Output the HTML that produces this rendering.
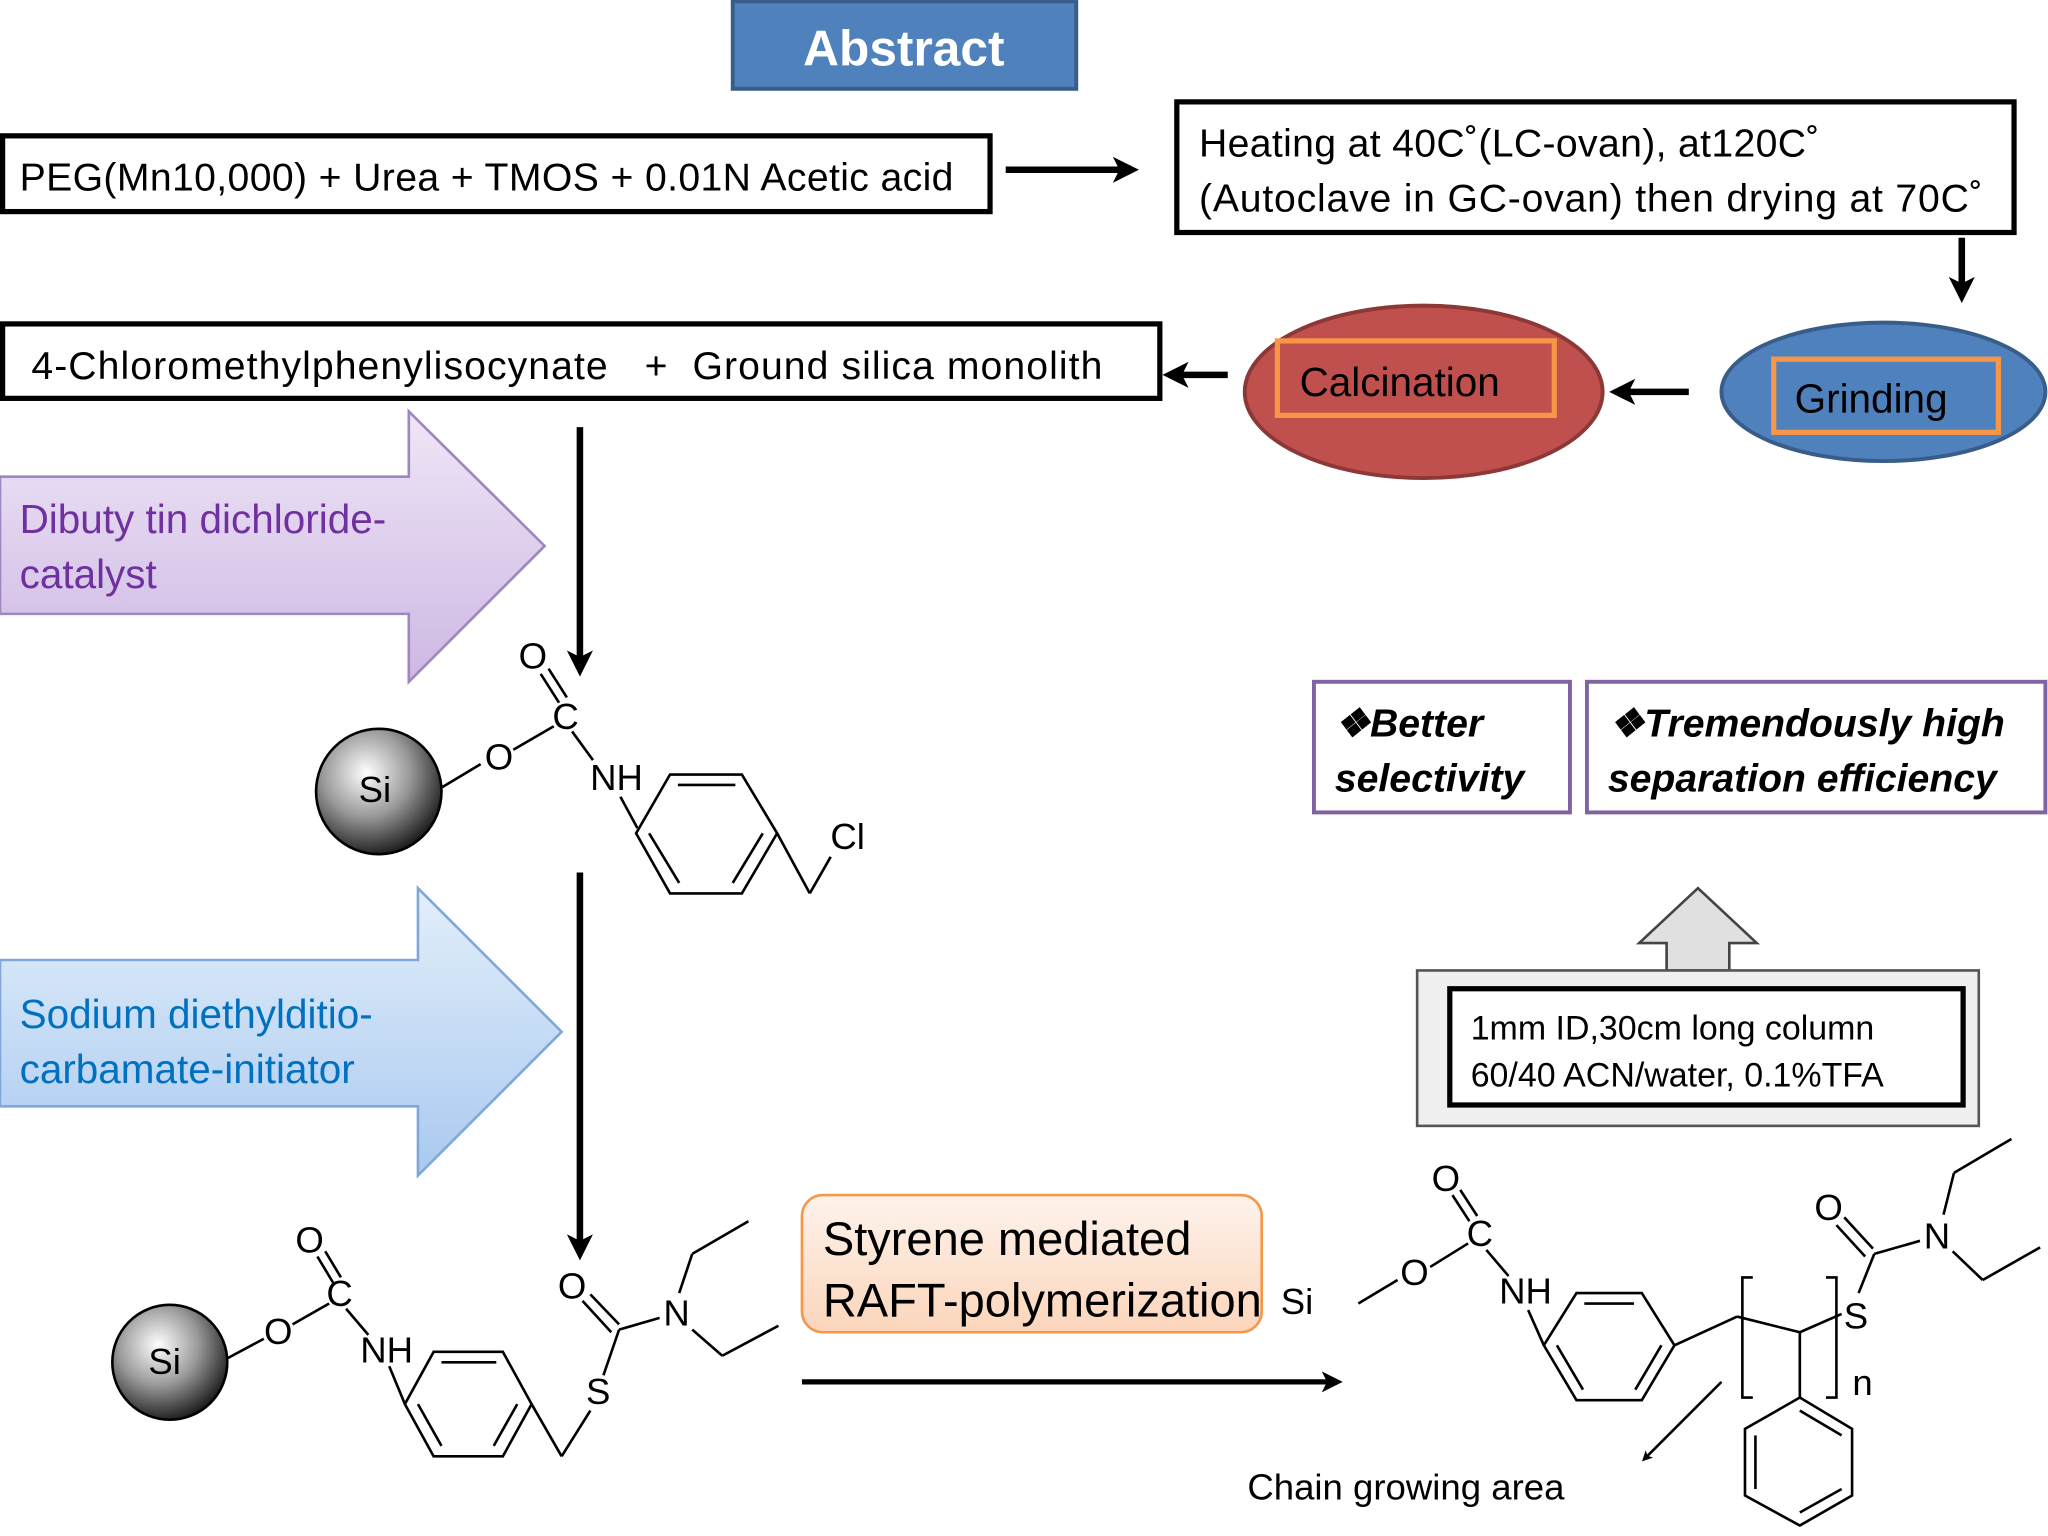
<!DOCTYPE html>
<html><head><meta charset="utf-8"><style>html,body{margin:0;padding:0;background:#fff}svg{display:block}</style></head>
<body>
<svg width="2048" height="1536" viewBox="0 0 1568 1176" xmlns="http://www.w3.org/2000/svg" font-family="Liberation Sans, sans-serif">
<defs>
<linearGradient id="pg" x1="0" y1="0" x2="0" y2="1"><stop offset="0" stop-color="#efe6f7"/><stop offset="1" stop-color="#cdb8e3"/></linearGradient>
<linearGradient id="bg" x1="0" y1="0" x2="0" y2="1"><stop offset="0" stop-color="#e3effa"/><stop offset="1" stop-color="#a9c9f0"/></linearGradient>
<linearGradient id="og" x1="0" y1="0" x2="0" y2="1"><stop offset="0" stop-color="#fef3ec"/><stop offset="1" stop-color="#fbd5bb"/></linearGradient>
<radialGradient id="sg" cx="0.4" cy="0.35" r="0.7"><stop offset="0" stop-color="#fff"/><stop offset="0.5" stop-color="#999"/><stop offset="1" stop-color="#111"/></radialGradient>
<marker id="ah" markerWidth="4" markerHeight="4" refX="2" refY="2" orient="auto" markerUnits="strokeWidth"><path d="M0,0 L4,2 L0,4 L1,2 z" fill="#000"/></marker>
</defs>
<rect x="561" y="1" width="263" height="67" fill="#4f81bd" stroke="#385d8a" stroke-width="3"/>
<text x="692" y="50" fill="#fff" font-size="38" font-weight="bold" text-anchor="middle">Abstract</text>
<g fill="none" stroke="#000" stroke-width="4">
<rect x="2" y="104" width="756" height="58"/>
<rect x="901" y="78" width="641" height="100"/>
<rect x="2" y="248" width="886" height="57"/>
<rect x="1110" y="757" width="393" height="89"/>
</g>
<g font-size="30" fill="#000">
<text x="15" y="146" textLength="715">PEG(Mn10,000) + Urea + TMOS + 0.01N Acetic acid</text>
<text x="918" y="120" textLength="475">Heating at 40C˚(LC-ovan), at120C˚</text>
<text x="918" y="162" textLength="600">(Autoclave in GC-ovan) then drying at 70C˚</text>
<text x="24" y="290" textLength="820" xml:space="preserve">4-Chloromethylphenylisocynate   +  Ground silica monolith</text>
</g>
<g stroke="#000" stroke-width="5" fill="none" marker-end="url(#ah)">
<line x1="770" y1="130" x2="862" y2="130"/>
<line x1="1502" y1="182" x2="1502" y2="222"/>
<line x1="1293" y1="300" x2="1242" y2="300"/>
<line x1="940" y1="287" x2="900" y2="287"/>
<line x1="444" y1="327" x2="444" y2="508"/>
<line x1="444" y1="668" x2="444" y2="955"/>
</g>
<line x1="614" y1="1058" x2="1020" y2="1058" stroke="#000" stroke-width="4" marker-end="url(#ah)"/>
<ellipse cx="1442" cy="300" rx="124" ry="53" fill="#4f81bd" stroke="#385d8a" stroke-width="3"/>
<rect x="1358" y="275" width="172" height="56" fill="#4f81bd" stroke="#f79646" stroke-width="4"/>
<text x="1374" y="316" font-size="31">Grinding</text>
<ellipse cx="1090" cy="300" rx="137" ry="66" fill="#c0504d" stroke="#8c3836" stroke-width="3"/>
<rect x="978" y="261" width="212" height="57" fill="#c0504d" stroke="#f79646" stroke-width="4"/>
<text x="995" y="303" font-size="31">Calcination</text>
<polygon points="0,365 313,365 313,315 417,418 313,522 313,470 0,470" fill="url(#pg)" stroke="#9f86c0" stroke-width="2"/>
<text font-size="31" fill="#7030a0"><tspan x="15" y="408">Dibuty tin dichloride-</tspan><tspan x="15" y="450">catalyst</tspan></text>
<polygon points="0,735 320,735 320,680 430,790 320,900 320,847 0,847" fill="url(#bg)" stroke="#7fa7d8" stroke-width="2"/>
<text font-size="31" fill="#0070c0"><tspan x="15" y="787">Sodium diethylditio-</tspan><tspan x="15" y="829">carbamate-initiator</tspan></text>
<rect x="1006" y="522" width="196" height="100" fill="#fff" stroke="#8064a2" stroke-width="3"/>
<rect x="1215" y="522" width="351" height="100" fill="#fff" stroke="#8064a2" stroke-width="3"/>
<g font-size="30" font-weight="bold" font-style="italic">
<text x="1022" y="564">❖Better</text><text x="1022" y="606">selectivity</text>
<text x="1232" y="564">❖Tremendously high</text><text x="1231" y="606">separation efficiency</text>
</g>
<polygon points="1255,722 1300,680 1345,722 1324,722 1324,743 1276,743 1276,722" fill="#e0e0e0" stroke="#444" stroke-width="2"/>
<rect x="1085" y="743" width="430" height="119" fill="#efefef" stroke="#555" stroke-width="2"/>
<rect x="1110" y="757" width="393" height="89" fill="#fff" stroke="#000" stroke-width="4"/>
<text font-size="26"><tspan x="1126" y="796">1mm ID,30cm long column</tspan><tspan x="1126" y="832">60/40 ACN/water, 0.1%TFA</tspan></text>
<rect x="614" y="915" width="352" height="105" rx="16" fill="url(#og)" stroke="#f79646" stroke-width="2"/>
<text font-size="36"><tspan x="630" y="961">Styrene mediated</tspan><tspan x="630" y="1008">RAFT-polymerization</tspan></text>
<text x="955" y="1148" font-size="28">Chain growing area</text>
<line x1="1318" y1="1058" x2="1260" y2="1116" stroke="#000" stroke-width="2" marker-end="url(#ah)"/>
<circle cx="290" cy="606" r="48" fill="url(#sg)" stroke="#000" stroke-width="2"/>
<circle cx="130" cy="1043" r="44" fill="url(#sg)" stroke="#000" stroke-width="2"/>
<g font-size="28" text-anchor="middle">
<text x="287" y="614">Si</text><text x="126" y="1052">Si</text>
<text x="408" y="512">O</text><text x="433" y="558">C</text><text x="382" y="589">O</text><text x="472" y="605">NH</text><text x="649" y="650">Cl</text>
<text x="237" y="959">O</text><text x="260" y="1000">C</text><text x="213" y="1029">O</text><text x="296" y="1043">NH</text>
<text x="458" y="1075">S</text><text x="438" y="994">O</text><text x="518" y="1015">N</text>
<text x="993" y="1006">Si</text><text x="1083" y="984">O</text><text x="1133" y="954">C</text><text x="1107" y="912">O</text><text x="1168" y="998">NH</text>
<text x="1421" y="1017">S</text><text x="1400" y="934">O</text><text x="1483" y="956">N</text><text x="1426" y="1068">n</text>
</g>
<g fill="none" stroke="#000" stroke-width="2">
<line x1="338" y1="603" x2="368" y2="585"/><line x1="393" y1="574" x2="424" y2="556"/>
<line x1="414" y1="516" x2="428" y2="538"/><line x1="420" y1="512" x2="434" y2="534"/>
<line x1="438" y1="560" x2="454" y2="582"/><line x1="475" y1="610" x2="488" y2="634"/>
<polygon points="487,638 513,593 568,593 595,638 568,684 513,684"/>
<line x1="519" y1="601" x2="563" y2="601"/><line x1="584" y1="638" x2="561" y2="676"/><line x1="520" y1="676" x2="497" y2="638"/>
<line x1="595" y1="638" x2="620" y2="684"/><line x1="620" y1="684" x2="636" y2="656"/>
<line x1="174" y1="1040" x2="202" y2="1025"/><line x1="224" y1="1014" x2="252" y2="998"/>
<line x1="243" y1="962" x2="255" y2="982"/><line x1="249" y1="958" x2="261" y2="978"/>
<line x1="265" y1="1002" x2="282" y2="1022"/><line x1="298" y1="1046" x2="310" y2="1075"/>
<polygon points="310,1075 332,1035 385,1035 407,1075 385,1115 332,1115"/>
<line x1="338" y1="1043" x2="380" y2="1043"/><line x1="396" y1="1075" x2="378" y2="1107"/><line x1="338" y1="1107" x2="320" y2="1075"/>
<line x1="407" y1="1075" x2="430" y2="1115"/><line x1="430" y1="1115" x2="452" y2="1080"/>
<line x1="462" y1="1053" x2="474" y2="1018"/><line x1="446" y1="996" x2="468" y2="1020"/><line x1="452" y1="991" x2="474" y2="1014"/>
<line x1="474" y1="1018" x2="505" y2="1009"/><line x1="520" y1="990" x2="530" y2="960"/><line x1="530" y1="960" x2="573" y2="935"/>
<line x1="530" y1="1018" x2="553" y2="1038"/><line x1="553" y1="1038" x2="596" y2="1015"/>
<line x1="1040" y1="998" x2="1070" y2="980"/><line x1="1095" y1="970" x2="1124" y2="952"/>
<line x1="1112" y1="915" x2="1125" y2="935"/><line x1="1118" y1="911" x2="1131" y2="931"/>
<line x1="1138" y1="957" x2="1155" y2="977"/><line x1="1170" y1="1003" x2="1182" y2="1030"/>
<polygon points="1182,1030 1207,990 1257,990 1282,1030 1257,1072 1207,1072"/>
<line x1="1213" y1="998" x2="1251" y2="998"/><line x1="1272" y1="1030" x2="1252" y2="1064"/><line x1="1212" y1="1064" x2="1192" y2="1030"/>
<line x1="1282" y1="1030" x2="1330" y2="1008"/><line x1="1330" y1="1008" x2="1378" y2="1020"/><line x1="1378" y1="1020" x2="1410" y2="1006"/>
<path d="M1342,978 H1334 V1070 H1342"/><path d="M1398,978 H1406 V1070 H1398"/>
<line x1="1378" y1="1020" x2="1378" y2="1070"/>
<polygon points="1378,1070 1418,1094 1418,1145 1378,1168 1336,1145 1336,1094"/>
<line x1="1378" y1="1080" x2="1410" y2="1099"/><line x1="1410" y1="1140" x2="1378" y2="1158"/><line x1="1344" y1="1140" x2="1344" y2="1099"/>
<line x1="1423" y1="990" x2="1435" y2="960"/><line x1="1406" y1="938" x2="1428" y2="962"/><line x1="1412" y1="932" x2="1434" y2="956"/>
<line x1="1435" y1="960" x2="1470" y2="950"/><line x1="1488" y1="930" x2="1496" y2="898"/><line x1="1496" y1="898" x2="1540" y2="872"/>
<line x1="1495" y1="958" x2="1518" y2="980"/><line x1="1518" y1="980" x2="1562" y2="955"/>
</g>
</svg>
</body></html>
